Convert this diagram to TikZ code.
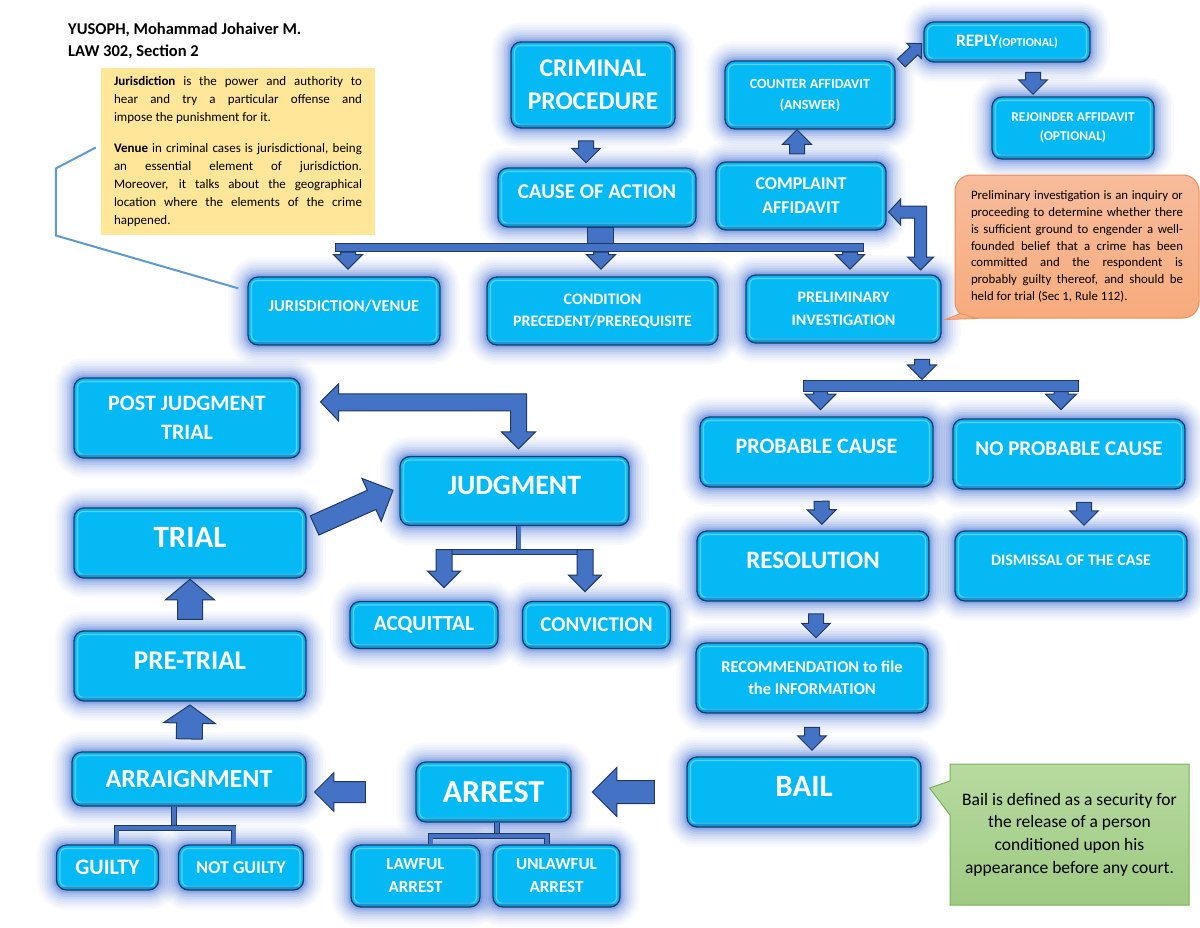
\documentclass[tikz,border=0pt]{standalone}
\usepackage{fontspec}
\setmainfont{Carlito}
\usepackage{tikz}
\usetikzlibrary{shapes.arrows,shapes.callouts,arrows.meta,calc,backgrounds}
\definecolor{boxfill}{HTML}{05B9F5}
\definecolor{boxline}{HTML}{1B3A6B}
\definecolor{boxglow}{HTML}{3F6FD8}
\definecolor{arrowfill}{HTML}{4472C4}
\definecolor{arrowline}{HTML}{1F3864}
\definecolor{noteyellow}{HTML}{FFE699}
\definecolor{noteorange}{HTML}{F6B08A}
\definecolor{orangeline}{HTML}{EE8C57}
\definecolor{greentop}{HTML}{B7DAA0}
\definecolor{greenbot}{HTML}{9ECA82}
\definecolor{greenline}{HTML}{78B454}
\definecolor{callline}{HTML}{5B9BD5}
\newcommand{\boxfont}[2]{\fontsize{#1}{#2}\selectfont\bfseries}
\tikzstyle{box} = [rectangle, rounded corners=10pt, draw=boxline, line width=1.3pt,
    fill=boxfill, text=white, align=center, inner sep=2pt,
    path picture={\draw[white, opacity=0.35, line width=1.2pt, rounded corners=6pt]
      ([shift={(3.5pt,-3.5pt)}]path picture bounding box.north west) rectangle
      ([shift={(-3.5pt,3.5pt)}]path picture bounding box.south east);
      \fill[boxline, opacity=0.25] (path picture bounding box.south west) rectangle
      ([yshift=4pt]path picture bounding box.south east);}]
\tikzstyle{lift} = [text depth=11pt]
\tikzstyle{flow} = [single arrow, draw=arrowline, fill=arrowfill, line width=1pt, inner xsep=0pt, inner ysep=7pt,
    sloped, allow upside down, single arrow head extend=7pt, minimum height=22pt]
\tikzstyle{bus} = [draw=arrowline, fill=arrowfill, line width=1pt, line join=miter]
\tikzstyle{treeline} = [draw=arrowline, line width=0.9pt, double=arrowfill, double distance=4pt]
\tikzstyle{yellownote} = [rectangle, fill=noteyellow, text width=248pt, align=justify, inner xsep=13pt,
    minimum width=274pt, minimum height=167pt, font=\fontsize{13}{18}\selectfont]
\tikzstyle{orangenote} = [rectangle, rounded corners=16pt, draw=orangeline, line width=1pt,
    top color=noteorange!85!white, bottom color=noteorange!90!orange, text width=212pt, align=justify,
    minimum width=244pt, minimum height=143pt, font=\fontsize{12.8}{16.8}\selectfont]
\tikzstyle{greennote} = [rectangle callout, draw=greenline, line width=1pt,
    top color=greentop, bottom color=greenbot,
    align=center, minimum width=239pt, minimum height=141pt, callout pointer width=34pt,
    font=\fontsize{17.5}{22.7}\selectfont]

\begin{document}
\begin{tikzpicture}[x=1pt, y=-1pt]
\useasboundingbox (0,0) rectangle (1200,927);

\node[anchor=north west, inner sep=0pt, align=left, font=\boxfont{16.5}{21.5}] (author) at (68,23)
    {YUSOPH, Mohammad Johaiver M.\\LAW 302, Section 2};

\node[box, minimum width=164pt, minimum height=86pt, font=\boxfont{25.5}{33}] (crim) at (593,85) {CRIMINAL\\PROCEDURE};
\node[box, lift, minimum width=198pt, minimum height=59pt, font=\boxfont{21}{25}] (cause) at (597,197.5) {CAUSE OF ACTION};
\node[box, minimum width=170pt, minimum height=68pt, font=\boxfont{18}{24}] (complaint) at (801,196) {COMPLAINT\\AFFIDAVIT};
\node[box, minimum width=170pt, minimum height=68pt, font=\boxfont{14}{21}] (counter) at (810,95) {COUNTER AFFIDAVIT\\(ANSWER)};
\node[box, minimum width=166pt, minimum height=40pt, font=\boxfont{17.5}{20}] (reply) at (1007,42) {REPLY{\fontsize{12}{14}\selectfont(OPTIONAL)}};
\node[box, minimum width=162pt, minimum height=62pt, font=\boxfont{13.4}{19}] (rejoinder) at (1073,128) {REJOINDER AFFIDAVIT\\(OPTIONAL)};
\node[box, lift, minimum width=192pt, minimum height=68pt, font=\boxfont{16.5}{22}] (juris) at (344,311) {JURISDICTION/VENUE};
\node[box, minimum width=231pt, minimum height=68pt, font=\boxfont{16}{22}] (cond) at (602.5,311) {CONDITION\\PRECEDENT/PREREQUISITE};
\node[box, minimum width=195pt, minimum height=68pt, font=\boxfont{16}{23}] (prelim) at (843.5,309) {PRELIMINARY\\INVESTIGATION};
\node[box, lift, minimum width=233pt, minimum height=70pt, font=\boxfont{22}{26}] (probable) at (816.5,452) {PROBABLE CAUSE};
\node[box, lift, minimum width=232pt, minimum height=70pt, font=\boxfont{21}{25}] (noprob) at (1069,454) {NO PROBABLE CAUSE};
\node[box, lift, minimum width=232pt, minimum height=70pt, font=\boxfont{25}{30}] (resolution) at (813,566) {RESOLUTION};
\node[box, lift, minimum width=232pt, minimum height=70pt, font=\boxfont{16}{20}] (dismissal) at (1071,566) {DISMISSAL OF THE CASE};
\node[box, minimum width=232pt, minimum height=70pt, font=\boxfont{16.5}{22}] (recommend) at (812,678) {RECOMMENDATION to file\\the INFORMATION};
\node[box, lift, minimum width=234pt, minimum height=70pt, font=\boxfont{31}{36}] (bail) at (804,792) {BAIL};
\node[box, minimum width=155pt, minimum height=60pt, font=\boxfont{32}{36}] (arrest) at (493.5,792) {ARREST};
\node[box, minimum width=129pt, minimum height=62pt, font=\boxfont{17}{23}] (lawful) at (415.5,876) {LAWFUL\\ARREST};
\node[box, minimum width=127pt, minimum height=62pt, font=\boxfont{17}{23}] (unlawful) at (556.5,876) {UNLAWFUL\\ARREST};
\node[box, minimum width=234pt, minimum height=54pt, font=\boxfont{26}{30}] (arraign) at (189,779) {ARRAIGNMENT};
\node[box, minimum width=102pt, minimum height=45pt, font=\boxfont{22}{26}] (guilty) at (107.5,867.5) {GUILTY};
\node[box, minimum width=125pt, minimum height=45pt, font=\boxfont{18}{22}] (notguilty) at (241,867.5) {NOT GUILTY};
\node[box, lift, minimum width=232pt, minimum height=70pt, font=\boxfont{27}{30}] (pretrial) at (190,666) {PRE-TRIAL};
\node[box, lift, minimum width=232pt, minimum height=70pt, font=\boxfont{31}{34}] (trial) at (190,543) {TRIAL};
\node[box, lift, minimum width=229pt, minimum height=69pt, font=\boxfont{28}{32}] (judg) at (514.5,491) {JUDGMENT};
\node[box, minimum width=148pt, minimum height=47pt, font=\boxfont{21.5}{25}] (acq) at (424,625) {ACQUITTAL};
\node[box, minimum width=148pt, minimum height=47pt, font=\boxfont{21}{25}] (conv) at (596.5,625) {CONVICTION};
\node[box, minimum width=226pt, minimum height=80pt, font=\boxfont{22}{29}] (post) at (187,418) {POST JUDGMENT\\TRIAL};

\node[yellownote] (jvnote) at (238,151.5) {\textbf{Jurisdiction} is the power and authority to\linebreak
    hear and try a particular offense and\linebreak impose the punishment for it.\par\vspace{13pt}
    \textbf{Venue} in criminal cases is jurisdictional, being\linebreak an essential element of jurisdiction.\linebreak
    Moreover, it talks about the geographical\linebreak location where the elements of the crime\linebreak happened.};
\node[orangenote] (pinote) at (1077,246.5) {Preliminary investigation is an inquiry or\linebreak
    proceeding to determine whether there\linebreak is sufficient ground to engender a well-\linebreak
    founded belief that a crime has been\linebreak committed and the respondent is\linebreak
    probably guilty thereof, and should be\linebreak held for trial (Sec 1, Rule 112).};
\node[greennote, callout absolute pointer={($(bail.east)+(8,-4)$)}] (bailnote) at (1069.5,834.5)
    {Bail is defined as a security for\\the release of a person\\conditioned upon his\\appearance before any court.};

\draw[callline, line width=2pt] ($(jvnote.west)+(-5,-4)$) -- ++(-40,21) -- ++(0,67) -- ($(juris.north west)+(-9,12)$);
\fill[noteorange, draw=orangeline, line width=0.8pt] ($(pinote.south west)+(6,-5)$) -- ($(pinote.south west)+(-9,1)$) -- ($(pinote.south west)+(22,0)$) -- cycle;

\path ($(crim.south)+(-7,0)$) -- ($(cause.north)+(-11,0)$) node[midway, flow] {};
\path ($(complaint.north)+(-4,0)$) -- ($(complaint.north |- counter.south)+(-4,0)$) node[midway, flow, minimum height=24pt] {};
\path ($(counter.north east)+(0,8)$) -- (reply.west) node[midway, flow, minimum height=28pt, inner ysep=5pt, single arrow head extend=5pt] {};
\path ($(reply.south)+(26,0)$) -- ($(reply.south |- rejoinder.north)+(26,0)$) node[midway, flow] {};

\draw[bus] ($(cause.south)+(-10,0)$) rectangle ($(cause.south)+(16,17)$);
\draw[bus] ($(juris.north |- cause.south)+(-9,16)$) rectangle ($(prelim.north |- cause.south)+(19.5,24)$);
\path ($(juris.north |- cause.south)+(4,24)$) -- ($(juris.north)+(4,0)$) node[pos=0, anchor=tail, flow, minimum height=17pt] {};
\path ($(cond.north |- cause.south)+(-1.5,24)$) -- ($(cond.north)+(-1.5,0)$) node[pos=0, anchor=tail, flow, minimum height=17pt] {};
\path ($(prelim.north |- cause.south)+(6.5,24)$) -- ($(prelim.north)+(6.5,0)$) node[pos=0, anchor=tail, flow, minimum height=17pt] {};

\begin{scope}[shift={(complaint.east)}]
\draw[bus] (2,16) -- (14,3) -- (14,10) -- (40,10) -- (40,61) -- (47,61) -- (34,74) -- (21,61)
    -- (28,61) -- (28,22) -- (14,22) -- (14,29) -- cycle;
\end{scope}

\coordinate (fork) at ($(prelim.south)+(0,42)$);
\path ($(prelim.south)+(78.5,0)$) -- ($(fork)+(78.5,-5.5)$) node[pos=0.6, flow, minimum height=20pt] {};
\draw[bus] ($(probable.north |- fork)+(-13,-5.5)$) rectangle ($(noprob.north |- fork)+(9,5.5)$);
\path ($(probable.north |- fork)+(4,5.5)$) -- ($(probable.north)+(4,0)$) node[pos=0, anchor=tail, flow, minimum height=18pt, inner ysep=6.5pt, single arrow head extend=8.5pt] {};
\path ($(noprob.north |- fork)+(-8,5.5)$) -- ($(noprob.north)+(-8,0)$) node[pos=0, anchor=tail, flow, minimum height=18pt, inner ysep=6.5pt, single arrow head extend=8.5pt] {};

\path ($(probable.south)+(5,0)$) -- ($(resolution.north)+(9,0)$) node[midway, flow, minimum height=23pt] {};
\path ($(noprob.south)+(15,0)$) -- ($(dismissal.north)+(13,0)$) node[midway, flow, minimum height=23pt] {};
\path ($(resolution.south)+(3,0)$) -- ($(recommend.north)+(4,0)$) node[midway, flow, minimum height=24pt] {};
\path (recommend.south) -- ($(bail.north)+(8,0)$) node[midway, flow, minimum height=23pt] {};
\path (bail.west) -- (arrest.east) node[midway, flow, minimum height=62pt, inner ysep=11pt, single arrow head extend=13pt] {};
\path (arrest.west) -- (arrest.west -| arraign.east) node[pos=0.645, flow, minimum height=51pt, inner ysep=10pt, single arrow head extend=9pt] {};
\path (arraign.north) -- (pretrial.south) node[midway, flow, minimum height=34pt, inner ysep=12.5pt, single arrow head extend=13pt, single arrow tip angle=110] {};
\path (pretrial.north) -- (trial.south) node[midway, flow, minimum height=40pt, inner ysep=12pt, single arrow head extend=12pt, single arrow tip angle=100] {};
\path ($(trial.east)+(0,-14)$) -- ($(judg.west)+(-8,0)$) node[midway, flow, minimum height=86pt, inner ysep=10pt, single arrow head extend=13pt] {};

\begin{scope}[shift={(judg.north)}]
\draw[bus] (-194,-54) -- (-176,-72) -- (-176,-62) -- (12,-62) -- (12,-24) -- (21,-24) -- (4,-7)
    -- (-13,-24) -- (-4,-24) -- (-4,-45) -- (-176,-45) -- (-176,-35) -- cycle;
\end{scope}

\coordinate (jfork) at ($(judg.south)+(4,26)$);
\draw[treeline] ($(judg.south)+(4,0)$) -- (jfork);
\draw[treeline] ($(acq.north |- jfork)+(20,0)$) -- ($(conv.north |- jfork)+(-11.5,0)$);
\path ($(acq.north |- jfork)+(20,-3)$) -- ($(acq.north)+(20,0)$) node[pos=0, anchor=tail, flow, minimum height=38pt, inner ysep=7.5pt, single arrow head extend=8.5pt] {};
\path ($(conv.north |- jfork)+(-11.5,-3)$) -- ($(conv.north)+(-11.5,0)$) node[pos=0, anchor=tail, flow, minimum height=42pt, inner ysep=7.5pt, single arrow head extend=8.5pt] {};

\coordinate (afork) at ($(arraign.south)+(-15,21)$);
\draw[treeline] ($(arraign.south)+(-15,0)$) -- (afork);
\draw[treeline] ($(guilty.north)+(9,0)$) |- (afork) -| ($(notguilty.north)+(-7.5,0)$);
\coordinate (rfork) at ($(arrest.south)+(3.5,13.5)$);
\draw[treeline] ($(arrest.south)+(3.5,0)$) -- (rfork);
\draw[treeline] ($(lawful.north)+(15,0)$) |- (rfork) -| ($(unlawful.north)+(-9.5,0)$);

\begin{scope}[on background layer]
\fill[white] (0,0) rectangle (1200,927);
\foreach \n in {crim,cause,complaint,counter,reply,rejoinder,juris,cond,prelim,probable,noprob,
    resolution,dismissal,recommend,bail,arrest,lawful,unlawful,arraign,guilty,notguilty,pretrial,trial,judg,acq,conv,post}
  \foreach \w/\o in {38/0.035,33/0.045,28/0.055,23/0.07,18/0.09,13/0.12,8/0.16,4/0.25}
    \draw[boxglow, line width=\w pt, opacity=\o, rounded corners=10pt] (\n.north west) rectangle (\n.south east);
\end{scope}
\end{tikzpicture}
\end{document}
